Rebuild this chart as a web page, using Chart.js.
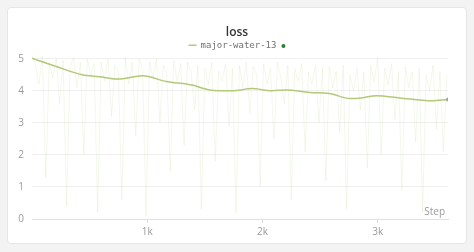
<!DOCTYPE html>
<html>
<head>
    <meta charset="UTF-8">
    <title>loss</title>
    <script src="https://cdn.jsdelivr.net/npm/chart.js@4.4.1/dist/chart.umd.min.js"></script>
</head>
<style>
    body { margin: 0; background: #f3f3f3; width: 474px; height: 252px; overflow: hidden; }
    #card { position: absolute; left: 7px; top: 7px; width: 458px; height: 235px; background: #fff;
            border: 1px solid #e6e6e6; border-radius: 4px; }
    #wrap { position: absolute; left: 0; top: 0; width: 474px; height: 252px; }
</style>
<body>
    <div id="card"></div>
    <div id="wrap"><canvas id="wykres" width="474" height="252"></canvas></div>

    <script>
        var chartTitle = 'loss';
        var runName = 'major-water-13';
        var rawInterval = 30; // steps between logged raw points
        var rawLoss = [
            5.05, 4.8, 4.2, 5.1, 1.3, 4.9, 4.4, 5.0, 3.6, 4.95, 0.4, 4.7, 5.05, 4.1, 4.9, 2.0, 5.0, 4.5, 4.85, 0.2,
            4.9, 4.3, 5.0, 3.2, 4.8, 4.6, 0.6, 5.05, 4.2, 4.9, 2.6, 5.0, 4.7, 0.1, 4.9, 4.4, 5.0, 3.0, 4.8, 4.5,
            1.5, 4.95, 4.3, 4.85, 2.3, 4.9, 4.6, 3.4, 4.8, 0.3, 4.7, 4.2, 4.9, 1.8, 4.6, 4.3, 4.85, 2.9, 4.7, 0.2,
            4.8, 4.1, 4.9, 3.3, 4.75, 4.5, 1.0, 4.85, 4.2, 4.7, 2.5, 4.9, 4.4, 3.6, 4.8, 0.6, 4.7, 4.3, 4.85, 2.1,
            4.6, 4.2, 4.8, 3.0, 4.7, 1.2, 4.75, 4.1, 4.6, 2.7, 4.8, 0.3, 4.5, 4.0, 4.7, 3.4, 4.6, 1.6, 4.8, 4.3,
            5.05, 2.0, 4.7, 4.2, 4.85, 3.1, 4.6, 0.9, 4.75, 4.1, 4.6, 2.4, 4.7, 0.2, 4.5, 4.0, 4.8, 2.8, 4.6, 2.1,
            4.5
        ];
        var smoothSteps = [0, 210, 435, 585, 740, 960, 1165, 1340, 1390, 1540, 1740, 1910, 2080, 2210, 2410, 2580, 2760, 2860, 2990, 3190, 3470, 3610];
        var smoothLoss = [5.02, 4.76, 4.5, 4.44, 4.37, 4.47, 4.29, 4.21, 4.18, 4.03, 4.0, 4.07, 4.0, 4.03, 3.95, 3.92, 3.76, 3.78, 3.85, 3.78, 3.69, 3.73];
        var yTicks = [0, 1, 2, 3, 4, 5];
        var xTicks = [1000, 2000, 3000];
        var xTickLabels = ['1k', '2k', '3k'];

        var lineColor = '#b3c87a';
        var rawColor = 'rgba(190, 215, 140, 0.18)';

        // title, legend and the "Step" note, drawn on the canvas
        var extras = {
            id: 'extras',
            afterDraw: function (chart) {
                var c = chart.ctx, a = chart.chartArea;
                var cx = chart.width / 2;
                c.save();
                c.textBaseline = 'middle';

                c.font = '600 12px "Open Sans", sans-serif';
                c.fillStyle = '#333';
                c.textAlign = 'center';
                c.fillText(chartTitle, cx, 33);

                c.font = '9px "DejaVu Sans Mono", monospace';
                var w = c.measureText(runName).width;
                var x0 = cx - (8 + 4 + w + 9) / 2;
                c.fillStyle = lineColor;
                c.fillRect(x0, 44.5, 8, 1.5);
                c.fillStyle = '#707070';
                c.textAlign = 'left';
                c.fillText(runName, x0 + 12, 45.5);
                c.beginPath();
                c.arc(x0 + 12 + w + 7, 46, 2, 0, Math.PI * 2);
                c.fillStyle = '#2e7d32';
                c.fill();

                c.font = '10px "Open Sans", sans-serif';
                c.fillStyle = '#9a9a9a';
                c.textAlign = 'right';
                c.fillText('Step', a.right - 3, a.bottom - 7);
                c.restore();
            }
        };

        new Chart(document.getElementById('wykres'), {
            type: 'line',
            data: {
                datasets: [{
                    label: runName,
                    data: smoothSteps.map((s, i) => ({x: s, y: smoothLoss[i]})),
                    borderColor: lineColor,
                    borderWidth: 1.5,
                    cubicInterpolationMode: 'monotone',
                    pointRadius: smoothSteps.map((s, i) => i == smoothSteps.length - 1 ? 2 : 0),
                    pointBackgroundColor: '#a0a890',
                    pointBorderWidth: 0,
                    order: 0
                }, {
                    label: 'raw',
                    data: rawLoss.map((v, i) => ({x: i * rawInterval, y: v})),
                    borderColor: rawColor,
                    borderWidth: 1,
                    pointRadius: 0,
                    tension: 0,
                    order: 1
                }]
            },
            options: {
                responsive: false,
                animation: false,
                layout: {padding: {left: 12, right: 26, top: 54, bottom: 11}},
                plugins: {
                    title: {display: false},
                    legend: {display: false},
                    tooltip: {enabled: false}
                },
                scales: {
                    x: {
                        type: 'linear', min: 0, max: 3610,
                        afterBuildTicks: s => { s.ticks = xTicks.map(v => ({value: v})); },
                        grid: {drawOnChartArea: false, tickLength: 4, color: '#ddd'},
                        border: {color: '#e0e0e0'},
                        ticks: {
                            maxRotation: 0, autoSkip: false, color: '#999', padding: 3,
                            font: {family: '"Open Sans", sans-serif', size: 10},
                            callback: (v, i) => xTickLabels[i]
                        }
                    },
                    y: {
                        min: 0, max: 5.15,
                        afterFit: s => { s.width = 20; },
                        afterBuildTicks: s => { s.ticks = yTicks.map(v => ({value: v})); },
                        grid: {color: '#f0f0f0', drawTicks: false},
                        border: {display: false},
                        ticks: {
                            color: '#999', padding: 8,
                            font: {family: '"Open Sans", sans-serif', size: 10}
                        }
                    }
                }
            },
            plugins: [extras]
        });
    </script>
</body>
</html>
